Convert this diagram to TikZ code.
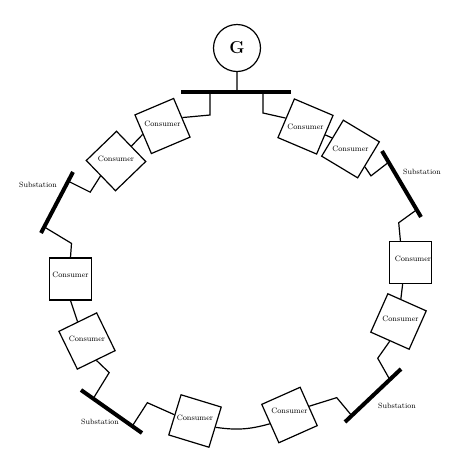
\documentclass[tikz,border=0pt]{standalone}
\usepackage{amsmath}
\usepackage{tikz}
\usetikzlibrary{calc}

\begin{document}
\begin{tikzpicture}[x=1pt,y=-1pt,
  consumer/.style={draw,line width=1.2pt,minimum size=42pt,inner sep=0pt},
  ctext/.style={font=\fontsize{7.8}{9}\selectfont,inner sep=0pt},
  slabel/.style={font=\fontsize{7.6}{9}\selectfont,inner sep=0pt},
  bar/.style={line width=4pt},
  wire/.style={line width=1.2pt}]

\useasboundingbox (0,0) rectangle (474,475);

\node[draw,circle,line width=1.2pt,minimum size=47pt,inner sep=0pt,font=\LARGE\bfseries] (g) at (237,48) {G};

% bus bars
\coordinate (b0a) at (181,92);
\coordinate (b0b) at (291,92);

\coordinate (s1a) at (382,151);
\coordinate (s1b) at (421,217);

\coordinate (s2a) at (73,172);
\coordinate (s2b) at (41,233);

\coordinate (s3a) at (81,390);
\coordinate (s3b) at (142,433);

\coordinate (s4a) at (401,369);
\coordinate (s4b) at (345,422);

\draw[bar] (b0a) -- (b0b);
\draw[bar] (s1a) -- (s1b);
\draw[bar] (s2a) -- (s2b);
\draw[bar] (s3a) -- (s3b);
\draw[bar] (s4a) -- (s4b);

\node[slabel] (l1) at (422,172) {Substation};
\node[slabel] (l2) at (38,185) {Substation};
\node[slabel] (l3) at (100,422) {Substation};
\node[slabel] (l4) at (397,406) {Substation};

% consumers
\node[consumer,rotate=23] (c1) at (162.5,126) {};
\node[consumer,rotate=44] (c2) at (116,161) {};
\node[consumer] (c3) at (70.5,279) {};
\node[consumer,rotate=26] (c4) at (87,341) {};
\node[consumer,rotate=-17] (c5) at (195,421) {};
\node[consumer,rotate=24] (c6) at (289.5,415) {};
\node[consumer,rotate=-24] (c7) at (398.5,321.5) {};
\node[consumer] (c8) at (410.5,262.5) {};
\node[consumer,rotate=-23] (c9) at (305.5,126.5) {};
\node[consumer,rotate=-31] (c10) at (350.5,149) {};

\node[ctext] (t1) at ([yshift=2pt]c1.center) {Consumer};
\node[ctext] (t2) at ([yshift=2pt]c2.center) {Consumer};
\node[ctext] (t3) at ([yshift=4pt]c3.center) {Consumer};
\node[ctext] (t4) at ([yshift=2pt]c4.center) {Consumer};
\node[ctext] (t5) at ([yshift=3pt]c5.center) {Consumer};
\node[ctext] (t6) at ([yshift=4pt]c6.center) {Consumer};
\node[ctext] (t7) at ([xshift=2pt,yshift=3pt]c7.center) {Consumer};
\node[ctext] (t8) at ([xshift=2.5pt,yshift=4pt]c8.center) {Consumer};
\node[ctext] (t9) at (c9.center) {Consumer};
\node[ctext] (t10) at (c10.center) {Consumer};

% lines
\draw[wire] (g) -- ($(b0a)!0.51!(b0b)$);
\draw[wire] ($(b0a)!0.264!(b0b)$) -- ++(0,23) -- (c1.east);
\draw[wire] ($(b0a)!0.745!(b0b)$) -- ++(0,21) -- (c9.west);
\draw[wire] (c9.east) -- (c10.west);
\draw[wire] (c10.-20) -- ++(6,9) -- ($(s1a)!0.17!(s1b)$);
\draw[wire] ($(s1a)!0.89!(s1b)$) -- ++(-18,13) -- (c8.115);
\draw[wire] (c8.-110) -- (c7.108);
\draw[wire] (c7.south) -- ++(-12,17) -- ($(s4a)!0.2!(s4b)$);
\draw[wire] ($(s4a)!0.88!(s4b)$) -- ++(-15,-18) -- (c6.east);
\draw[wire] (c6.west) to[bend left=12] (c5.east);
\draw[wire] (c5.west) -- ++(-27,-12) -- ($(s3a)!0.84!(s3b)$);
\draw[wire] ($(s3a)!0.2!(s3b)$) -- ++(16,-26) -- (c4.south);
\draw[wire] (c4.north) -- (c3.south);
\draw[wire] (c3.north) -- ++(1,-14) -- ($(s2a)!0.9!(s2b)$);
\draw[wire] ($(s2a)!0.15!(s2b)$) -- ++(22,11) -- (c2.west);
\draw[wire] (c2.east) -- (c1.west);

\end{tikzpicture}
\end{document}
